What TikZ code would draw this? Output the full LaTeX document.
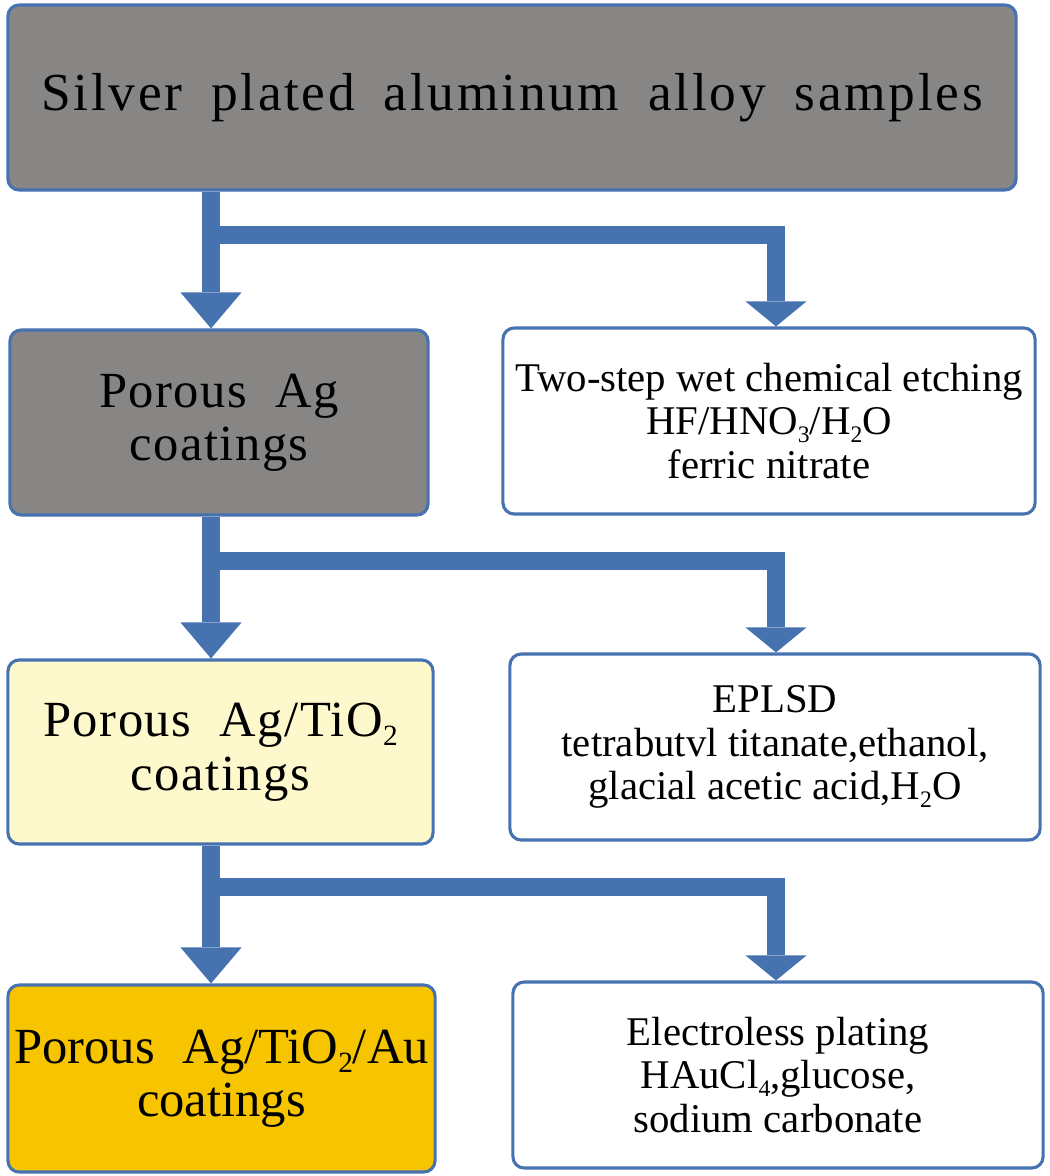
\documentclass[tikz,border=0pt]{standalone}
\usepackage{fontspec}
\setmainfont{Liberation Serif}
\newfontfamily\titlefont[LetterSpace=5,WordSpace=1.8]{Liberation Serif}
\newfontfamily\coatfont[LetterSpace=3,WordSpace=2]{Liberation Serif}
\newfontfamily\goldfont[WordSpace=2.2]{Liberation Serif}
\usepackage{tikz}
\usetikzlibrary{arrows.meta,calc}

\definecolor{flowblue}{HTML}{4672B0}
\definecolor{boxgrey}{HTML}{878685}
\definecolor{paleyellow}{HTML}{FEF9CC}
\definecolor{goldfill}{HTML}{F7C400}

% small chemical subscript
\newcommand{\chemsub}[1]{\raisebox{-0.4ex}{\scalebox{0.58}{#1}}}

\tikzset{
	box/.style={draw=flowblue, line width=2.2pt, rounded corners=8pt, inner sep=0pt, align=center},
	coatbox/.style={box, font=\coatfont\fontsize{36}{38}\selectfont},
	recipebox/.style={box, fill=white, font=\fontsize{29}{31}\selectfont},
	flow/.style={flowblue, line width=13.3pt},
}

\begin{document}
\begin{tikzpicture}[x=0.025cm, y=-0.025cm]

		% === figure bounds ===
		\useasboundingbox (0,0) rectangle (1050,1176);
		\def\trunkx{211}	\def\branchx{776}

		% === Boxes ===
		\node[box, fill=boxgrey, minimum width=25.2cm, minimum height=4.625cm,
			font=\titlefont\fontsize{38}{40}\selectfont] (sample) at (512,97.5)
			{Silver plated aluminum alloy samples};

		\node[coatbox, fill=boxgrey, minimum width=10.45cm, minimum height=4.625cm] (agbox) at (219,422.5)
			{Porous Ag\\coatings};
		\node[recipebox, minimum width=13.3cm, minimum height=4.65cm] (etchbox) at (769,421)
			{Two-step wet chemical etching\\HF/HNO\chemsub{3}/H\chemsub{2}O\\ferric nitrate};

		\node[coatbox, fill=paleyellow, minimum width=10.625cm, minimum height=4.6cm] (tibox) at (220.5,752)
			{Porous Ag/TiO\chemsub{2}\\coatings};
		\node[recipebox, minimum width=13.25cm, minimum height=4.65cm] (eplsdbox) at (775,747)
			{EPLSD\\tetrabutvl titanate,ethanol,\\glacial acetic acid,H\chemsub{2}O};

		\node[box, fill=goldfill, minimum width=10.675cm, minimum height=4.675cm,
			font=\goldfont\fontsize{36}{38}\selectfont] (aubox) at (221.5,1078.5)
			{Porous Ag/TiO\chemsub{2}/Au\\coatings};
		\node[recipebox, minimum width=13.25cm, minimum height=4.65cm] (platebox) at (778,1075)
			{Electroless plating\\HAuCl\chemsub{4},glucose,\\sodium carbonate};

		% === Arrows ===
		\coordinate (rx) at (\branchx,0);
		\foreach \src/\dst/\side/\y in {sample/agbox/etchbox/235, agbox/tibox/eplsdbox/561, tibox/aubox/platebox/887} {
			\coordinate (split) at (\trunkx,\y);
			\draw[flow, -{Triangle[width=43.4pt,length=25.6pt,line width=0pt]}]
				(split |- \src.south) -- (split |- \dst.north);		% straight down
			\draw[flow, -{Triangle[width=43.4pt,length=17.8pt,line width=0pt]}]
				(split) -| (rx |- \side.north);						% branch to the right
		}
	\end{tikzpicture}
\end{document}
